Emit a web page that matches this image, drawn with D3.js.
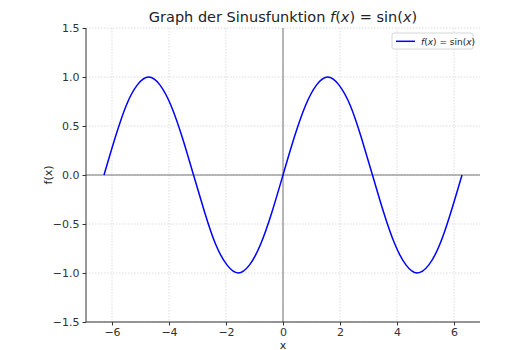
<!DOCTYPE html>
<html>
<head>
<meta charset="utf-8">
<script src="https://cdn.jsdelivr.net/npm/d3@7"></script>
<style>
  body { margin: 0; background: #fff; }
  svg { font-family: "DejaVu Sans", sans-serif; }
</style>
</head>
<body>
<script>
// values, roughly every pi/8
var xValues = [-6.28, -5.89, -5.50, -5.11, -4.71, -4.32, -3.93, -3.53, -3.14, -2.75, -2.36, -1.96, -1.57, -1.18, -0.79, -0.39,
               0, 0.39, 0.79, 1.18, 1.57, 1.96, 2.36, 2.75, 3.14, 3.53, 3.93, 4.32, 4.71, 5.11, 5.50, 5.89, 6.28];
var yValues = [0, 0.38, 0.71, 0.92, 1.0, 0.92, 0.71, 0.38, 0, -0.38, -0.71, -0.92, -1.0, -0.92, -0.71, -0.38,
               0, 0.38, 0.71, 0.92, 1.0, 0.92, 0.71, 0.38, 0, -0.38, -0.71, -0.92, -1.0, -0.92, -0.71, -0.38, 0];
var xTicks = [-6, -4, -2, 0, 2, 4, 6];
var yTicks = [-1.5, -1.0, -0.5, 0.0, 0.5, 1.0, 1.5];

var width = 521, height = 350;
var margin = {left: 86, right: 41, top: 28, bottom: 28};

var svg = d3.select("body").append("svg")
    .attr("width", width)
    .attr("height", height);

var x = d3.scaleLinear()
    .domain([-6.912, 6.912])
    .range([margin.left, width - margin.right]);

var y = d3.scaleLinear()
    .domain([-1.5, 1.5])
    .range([height - margin.bottom, margin.top]);

// grid
svg.append("g").selectAll("line").data(xTicks).join("line")
    .attr("x1", function(d){ return x(d); })
    .attr("x2", function(d){ return x(d); })
    .attr("y1", y(1.5)).attr("y2", y(-1.5))
    .attr("stroke", "#d4d4d4").attr("stroke-width", 0.8)
    .attr("stroke-dasharray", "1.5,1.5");
svg.append("g").selectAll("line").data(yTicks).join("line")
    .attr("x1", x.range()[0]).attr("x2", x.range()[1])
    .attr("y1", function(d){ return y(d); })
    .attr("y2", function(d){ return y(d); })
    .attr("stroke", "#d4d4d4").attr("stroke-width", 0.8)
    .attr("stroke-dasharray", "1.5,1.5");

// zero lines
svg.append("line")
    .attr("x1", x.range()[0]).attr("x2", x.range()[1])
    .attr("y1", y(0)).attr("y2", y(0))
    .attr("stroke", "#666").attr("stroke-width", 0.9);
svg.append("line")
    .attr("x1", x(0)).attr("x2", x(0))
    .attr("y1", y(1.5)).attr("y2", y(-1.5))
    .attr("stroke", "#666").attr("stroke-width", 0.9);

// axes
var xAxis = d3.axisBottom(x).tickValues(xTicks).tickSize(3.5).tickPadding(2.5)
    .tickFormat(d3.format("d"));
var yAxis = d3.axisLeft(y).tickValues(yTicks).tickSize(3.5).tickPadding(3)
    .tickFormat(d3.format(".1f"));

var gx = svg.append("g")
    .attr("transform", "translate(0," + (height - margin.bottom) + ")")
    .call(xAxis);
var gy = svg.append("g")
    .attr("transform", "translate(" + margin.left + ",0)")
    .call(yAxis);

[gx, gy].forEach(function(g){
    g.select(".domain").attr("stroke", "#333").attr("stroke-width", 1);
    g.selectAll(".tick line").attr("stroke", "#333");
    g.selectAll(".tick text").attr("fill", "#333")
        .style("font-family", "DejaVu Sans").style("font-size", "11px");
});
gy.select(".domain").attr("d", "M0," + y(1.5) + "V" + y(-1.5));
gx.select(".domain").attr("d", "M" + x.range()[0] + ",0H" + x.range()[1]);

// the curve
var line = d3.line()
    .x(function(d, i){ return x(xValues[i]); })
    .y(function(d){ return y(d); })
    .curve(d3.curveNatural);

svg.append("path")
    .attr("d", line(yValues))
    .attr("fill", "none")
    .attr("stroke", "#0000ff")
    .attr("stroke-width", 1.5);

// labels
var title = svg.append("text")
    .attr("x", (x.range()[0] + x.range()[1]) / 2)
    .attr("y", 22)
    .attr("text-anchor", "middle")
    .attr("fill", "#222")
    .style("font-size", "14.5px");
title.append("tspan").text("Graph der Sinusfunktion ");
title.append("tspan").attr("font-style", "italic").text("f");
title.append("tspan").text("(");
title.append("tspan").attr("font-style", "italic").text("x");
title.append("tspan").text(") = sin(");
title.append("tspan").attr("font-style", "italic").text("x");
title.append("tspan").text(")");

svg.append("text")
    .attr("x", (x.range()[0] + x.range()[1]) / 2)
    .attr("y", 348.5)
    .attr("text-anchor", "middle")
    .attr("fill", "#222")
    .style("font-size", "11px")
    .text("x");

svg.append("text")
    .attr("transform", "translate(52," + y(0) + ") rotate(-90)")
    .attr("text-anchor", "middle")
    .attr("fill", "#222")
    .style("font-size", "11px")
    .text("f(x)");

// legend
var lg = svg.append("g").attr("transform", "translate(392,33)");
lg.append("rect")
    .attr("width", 81).attr("height", 16)
    .attr("rx", 2)
    .attr("fill", "#fff").attr("fill-opacity", 0.8)
    .attr("stroke", "#ccc").attr("stroke-width", 0.8);
lg.append("line")
    .attr("x1", 4).attr("x2", 23).attr("y1", 8.3).attr("y2", 8.3)
    .attr("stroke", "#0000ff").attr("stroke-width", 1.5);
var lt = lg.append("text")
    .attr("x", 29).attr("y", 11.5)
    .attr("fill", "#222")
    .style("font-size", "9px");
lt.append("tspan").attr("font-style", "italic").text("f");
lt.append("tspan").text("(");
lt.append("tspan").attr("font-style", "italic").text("x");
lt.append("tspan").text(") = sin(");
lt.append("tspan").attr("font-style", "italic").text("x");
lt.append("tspan").text(")");
</script>
</body>
</html>
